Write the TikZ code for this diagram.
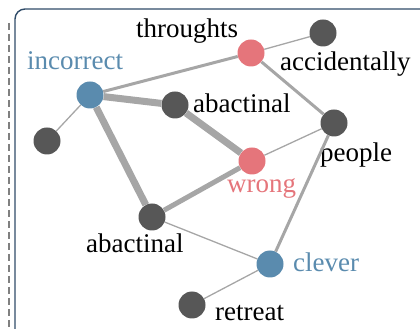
\documentclass[tikz,border=0pt]{standalone}
\usepackage{fontspec}
\setmainfont{Liberation Serif}

\definecolor{wordblue}{HTML}{5A8BAE}
\definecolor{wordred}{HTML}{E5757B}
\definecolor{worddark}{HTML}{575757}
\definecolor{edgegray}{HTML}{A6A6A6}
\definecolor{framenavy}{HTML}{2F4B68}

\begin{document}
\begin{tikzpicture}[x=1pt,y=1pt,
  dot/.style={circle,inner sep=0pt,minimum size=27pt,fill=worddark},
  word/.style={anchor=base west,inner sep=0pt,font=\fontsize{27}{30}\selectfont},
  thinedge/.style={edgegray,line width=1.3pt},
  midedge/.style={edgegray,line width=3pt},
  wideedge/.style={edgegray,line width=5pt},
  fatedge/.style={edgegray,line width=7pt}]
  \clip (0,0) rectangle (420,329);

  % Frame and dashed divider
  \draw[framenavy,line width=1.4pt,rounded corners=10pt] (15,-30) -- (15,320) -- (450,320);
  \coordinate (dtop) at (9,306);
  \coordinate (dbot) at (9,0);
  \draw[gray,line width=2pt,dash pattern=on 7pt off 4pt] (dtop) -- (dbot);

  % Define nodes for all words
  \node[dot,fill=wordblue] (inc) at (90,234) {};
  \node[dot,fill=wordred] (thr) at (251,276) {};
  \node[dot] (acc) at (323,296) {};
  \node[dot] (abt) at (175,224) {};
  \node[dot] (lft) at (47,188) {};
  \node[dot] (ppl) at (334,206) {};
  \node[dot,fill=wordred] (wrg) at (252,168) {};
  \node[dot] (abl) at (152,112) {};
  \node[dot,fill=wordblue] (clv) at (270,65) {};
  \node[dot] (ret) at (192,24) {};

  % Labels
  \node[word,text=wordblue] (incL) at (27,259) {incorrect};
  \node[word] (thrL) at (136,291) {throughts};
  \node[word] (accL) at (280,258) {accidentally};
  \node[word] (abtL) at (193,216) {abactinal};
  \node[word] (pplL) at (320,167) {people};
  \node[word,text=wordred] (wrgL) at (227,136) {wrong};
  \node[word] (ablL) at (86,76) {abactinal};
  \node[word,text=wordblue] (clvL) at (293,57) {clever};
  \node[word] (retL) at (215,9) {retreat};

  % Draw edges
  \draw[midedge] (inc) -- (thr);
  \draw[thinedge] (thr) -- (acc);
  \draw[midedge] (thr) -- (ppl);
  \draw[thinedge] (inc) -- (lft);
  \draw[fatedge] (inc) -- (abt);
  \draw[fatedge] (abt) -- (wrg);
  \draw[fatedge] (inc) -- (abl);
  \draw[wideedge] (abl) -- (wrg);
  \draw[thinedge] (wrg) -- (ppl);
  \draw[midedge] (ppl) -- (clv);
  \draw[thinedge] (abl) -- (clv);
  \draw[thinedge] (clv) -- (ret);

\end{tikzpicture}
\end{document}
